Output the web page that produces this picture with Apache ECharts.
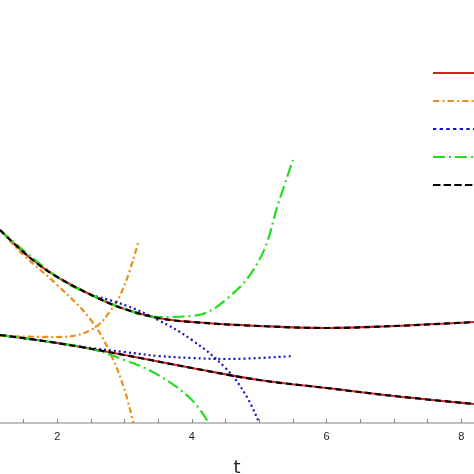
<!DOCTYPE html>
<html><head><meta charset="utf-8">
<script src="https://cdn.jsdelivr.net/npm/echarts@6/dist/echarts.min.js"></script>
<style>html,body{margin:0;padding:0;background:#fff}#c{width:474px;height:474px}</style>
</head><body><div id="c"></div>
<script>
// t values and curve values (arbitrary vertical units)
var upperT = [1.15, 1.6, 2, 2.6, 3, 3.5, 4, 5, 6, 7, 8.19];
var upperV = [193, 165, 146, 125, 114, 105, 101, 97, 95, 97, 101];
var lowerT = [1.15, 2, 3, 4, 5, 6, 7, 8.19];
var lowerV = [88, 80, 68, 55, 43, 35, 27, 19];
var orangeUpT = [1.15, 2, 2.5, 2.8, 3.0, 3.2];
var orangeUpV = [87, 86, 93, 113, 138, 180];
var orangeDnT = [1.15, 1.5, 2, 2.5, 2.8, 3.0, 3.13];
var orangeDnV = [193, 168, 138, 103, 68, 33, 0];
var greenUpT = [1.15, 2, 2.6, 3, 3.5, 4, 4.5, 5, 5.3, 5.5];
var greenUpV = [193, 146, 125, 114, 106, 107, 123, 163, 223, 263];
var greenDnT = [1.15, 2, 2.5, 3, 3.5, 4, 4.25];
var greenDnV = [88, 80, 74, 63, 48, 23, 0];
var blueUpT = [2.5, 3, 3.5, 4, 4.5, 4.8, 5.0];
var blueUpV = [128, 118, 103, 83, 55, 28, 0];
var blueDnT = [1.15, 2, 2.5, 3, 3.5, 4, 4.5, 5.5];
var blueDnV = [88, 80, 75, 71, 67, 65, 64, 67];
var labelTicks = [2, 4, 6, 8];
var minorTicks = [1.5, 2, 2.5, 3, 3.5, 4, 4.5, 5, 5.5, 6, 6.5, 7, 7.5, 8];

function pts(t, v) { return t.map(function(x, i) { return [x, v[i]]; }); }
function line(name, t, v, color, type) {
  return { name: name, type: 'line', data: pts(t, v), smooth: 0.4, symbol: 'none',
    lineStyle: { color: color, width: 2.2, type: type }, itemStyle: { color: color } };
}
var chart = echarts.init(document.getElementById('c'));
chart.setOption({
  animation: false,
  grid: { left: 0, right: 0, top: 0, bottom: 51, outerBoundsMode: 'none', containLabel: false },
  legend: { left: 428, top: 62, orient: 'vertical', itemWidth: 50, itemHeight: 8, itemGap: 16,
    formatter: function() { return ' '; },
    data: [
      { name: 's1', icon: 'path://M0,0H50V2H0Z', itemStyle: { color: '#d42020' } },
      { name: 's2', icon: 'path://M0,0H6V2H0ZM9,0H11V2H9ZM14,0H20V2H14ZM23,0H25V2H23ZM28,0H34V2H28ZM37,0H39V2H37ZM42,0H48V2H42Z', itemStyle: { color: '#e8901e' } },
      { name: 's3', icon: 'path://M0,0H3V2H0ZM6,0H9V2H6ZM12,0H15V2H12ZM18,0H21V2H18ZM24,0H27V2H24ZM30,0H33V2H30ZM36,0H39V2H36ZM42,0H45V2H42Z', itemStyle: { color: '#1414c0' } },
      { name: 's4', icon: 'path://M0,0H12V2H0ZM16,0H18V2H16ZM22,0H34V2H22ZM38,0H40V2H38ZM44,0H50V2H44Z', itemStyle: { color: '#22dd22' } },
      { name: 's5', icon: 'path://M0,0H7V2H0ZM10,0H17V2H10ZM20,0H27V2H20ZM30,0H37V2H30ZM40,0H47V2H40Z', itemStyle: { color: '#000' } }
    ] },
  xAxis: { type: 'value', min: 1.15, max: 8.19, name: 't', nameLocation: 'middle', nameGap: 36,
    nameTextStyle: { fontSize: 18, color: '#222', fontFamily: 'DejaVu Sans' },
    axisLine: { lineStyle: { color: '#aaa', width: 1.5 } },
    axisTick: { customValues: minorTicks, length: 4, inside: true, lineStyle: { color: '#888' } },
    axisLabel: { customValues: labelTicks, color: '#222', fontSize: 11, margin: 8 },
    splitLine: { show: false } },
  yAxis: { type: 'value', min: 0, max: 423, show: false },
  series: [
    line('s1', upperT, upperV, '#d42020', 'solid'),
    line('s1', lowerT, lowerV, '#d42020', 'solid'),
    line('s2', orangeUpT, orangeUpV, '#e8901e', [6, 3, 2, 3]),
    line('s2', orangeDnT, orangeDnV, '#e8901e', [6, 3, 2, 3]),
    line('s3', blueUpT, blueUpV, '#1414c0', [2, 3]),
    line('s3', blueDnT, blueDnV, '#1414c0', [2, 3]),
    line('s4', greenUpT, greenUpV, '#22dd22', [12, 4, 2, 4]),
    line('s4', greenDnT, greenDnV, '#22dd22', [12, 4, 2, 4]),
    line('s5', upperT, upperV, '#000', [6, 4]),
    line('s5', lowerT, lowerV, '#000', [6, 4])
  ]
});
</script></body></html>
